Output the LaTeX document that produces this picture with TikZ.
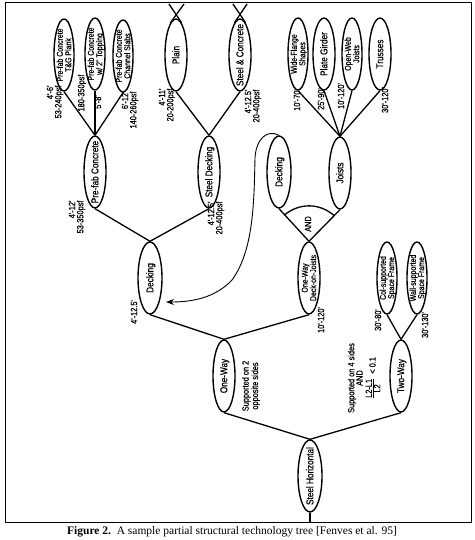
\documentclass[tikz,border=0pt]{standalone}
\usepackage{fontspec}
\setmainfont{Liberation Serif}
\newfontfamily\cf[FakeStretch=0.82,FakeBold=0.6]{Liberation Sans}
\usetikzlibrary{shapes.geometric,arrows.meta,calc}
\newcommand\et[1]{\raisebox{-0.36em}[0pt][0pt]{\makebox[0pt]{\begin{tabular}{@{}c@{}}#1\end{tabular}}}}
\begin{document}
\begin{tikzpicture}[x=1pt,y=-1pt,
  el/.style={ellipse,draw,line width=1.4pt,rotate=90,minimum width=72pt,minimum height=22pt,inner sep=0pt,font=\cf\fontsize{10}{9}\selectfont},
  els/.style={el,minimum height=20pt,font=\cf\fontsize{8.5}{7.6}\selectfont},
  lab/.style={rotate=90,align=right,inner sep=0pt,font=\cf\fontsize{9}{8.3}\selectfont},
  edge/.style={line width=1.3pt}]
\useasboundingbox (0,0) rectangle (474,540);
\draw[line width=1pt] (5,3) rectangle (471,522);
% top row
\node[els] (tjg) at (64,55) {\et{Pre-fab Concrete\\T\&G Plank}};
\node[els] (top) at (95,54) {\et{Pre-fab Concrete\\w/ 2" Topping}};
\node[els] (chs) at (123,56) {\et{Pre-fab Concrete\\Channel Slabs}};
\node[el] (plain) at (176,55) {\et{Plain}};
\node[el] (sc) at (240,55) {\et{Steel \& Concrete}};
\node[els] (wfs) at (298,54) {\et{Wide-Flange\\Shapes}};
\node[el] (pg) at (324,54) {\et{Plate Girder}};
\node[els] (owj) at (352,54) {\et{Open-Web\\Joists}};
\node[el] (tr) at (380,54) {\et{Trusses}};
% second row
\node[el] (pfc) at (95,172) {\et{Pre-fab Concrete}};
\node[el] (sd) at (209,172) {\et{Steel Decking}};
\node[el,minimum height=24pt] (dk2) at (279,172) {\et{Decking}};
\node[el] (jo) at (340,173) {\et{Joists}};
% third row
\node[el,minimum height=24pt] (dk) at (150,278) {\et{Decking}};
\node[els,minimum height=22pt] (owdj) at (309,278) {\et{One-Way\\Deck-on-Joists}};
\node[els] (css) at (387,278) {\et{Col-supported\\Space Frame}};
\node[els] (wss) at (417,278) {\et{Wall-supported\\Space Frame}};
% fourth row
\node[el] (ow) at (224,376) {\et{One-Way}};
\node[el] (tw) at (401,376) {\et{Two-Way}};
\node[el,minimum height=24pt] (sh) at (310,476) {\et{Steel Horizontal}};
% connectors
\foreach \c in {tjg,top,chs} \draw[edge] (pfc.east) -- (\c.west);
\foreach \c in {plain,sc} \draw[edge] (sd.east) -- (\c.west);
\foreach \c in {wfs,pg,owj,tr} \draw[edge] (jo.east) -- (\c.west);
\foreach \c in {pfc,sd} \draw[edge] (dk.east) -- (\c.west);
\foreach \c in {dk2,jo} \draw[edge] (owdj.east) -- (\c.west);
\foreach \c in {css,wss} \draw[edge] (tw.east) -- (\c.west);
\foreach \c in {dk,owdj} \draw[edge] (ow.east) -- (\c.west);
\foreach \c in {ow,tw} \draw[edge] (sh.east) -- (\c.west);
\coordinate (shb) at (310,522);
\draw[edge] (sh.west) -- (shb);
% cut-off branches
\coordinate (p1) at (169,4); \coordinate (p2) at (184,4);
\coordinate (s1) at (233,4); \coordinate (s2) at (247,4);
\draw[edge] (plain.10) -- (p2);
\draw[edge] (plain.-10) -- (p1);
\draw[edge] (sc.10) -- (s2);
\draw[edge] (sc.-10) -- (s1);
% AND arc
\coordinate (a1) at ($(owdj.east)!36pt!(dk2.west)$);
\coordinate (a2) at ($(owdj.east)!36pt!(jo.west)$);
\draw[edge] (a1) to[bend left=40] (a2);
\node[lab] (and) at (308,224) {AND};
% recursion arrow
\coordinate (aend) at (166,302);
\draw[line width=0.9pt,-{Stealth[length=8pt,width=6pt]}] (dk2.east)
  .. controls (267,129) and (256,139) .. (255,158)
  .. controls (254,200) and (254,250) .. (232,280)
  .. controls (215,298) and (192,302) .. (aend);
% labels
\node[lab] (l1) at (55,102) {4'-6'\\53-240psf};
\node[lab] (l2a) at (82,93) {180-350psf};
\node[lab] (l2b) at (98,102) {5'-8'};
\node[lab] (l3) at (130,110) {6'-12'\\140-260psf};
\node[lab] (l4) at (167,105) {4'-11'\\20-200psf};
\node[lab] (l5) at (253,106) {4'-12.5'\\20-400psf};
\node[lab] (l6) at (297,100) {10'-70'};
\node[lab] (l7) at (321,99) {25'-90'};
\node[lab] (l8) at (341,96) {10'-120'};
\node[lab] (l9) at (385,100) {30'-120'};
\node[lab] (l10) at (77,217) {4'-12'\\53-350psf};
\node[lab] (l11) at (216,218) {4'-12.5'\\20-400psf};
\node[lab] (l12) at (134,312) {4'-12.5'};
\node[lab] (l13) at (321,320) {10'-120'};
\node[lab] (l14) at (378,320) {30'-80'};
\node[lab] (l15) at (425,325) {30'-130'};
\node[lab,align=center] (l16) at (251,386) {Supported on 2\\opposite sides};
\node[lab,align=center] (l17) at (364,378) {Supported on 4 sides\\AND\\[2pt]$\frac{\hbox{\cf L2-L1}}{\hbox{\cf L2}}$\ \ {< 0.1}};
% caption
\node (cap) at (232,532) {\fontsize{11.5}{13}\selectfont\textbf{Figure 2.}\ \ A sample partial structural technology tree [Fenves et al. 95]};
\end{tikzpicture}
\end{document}
